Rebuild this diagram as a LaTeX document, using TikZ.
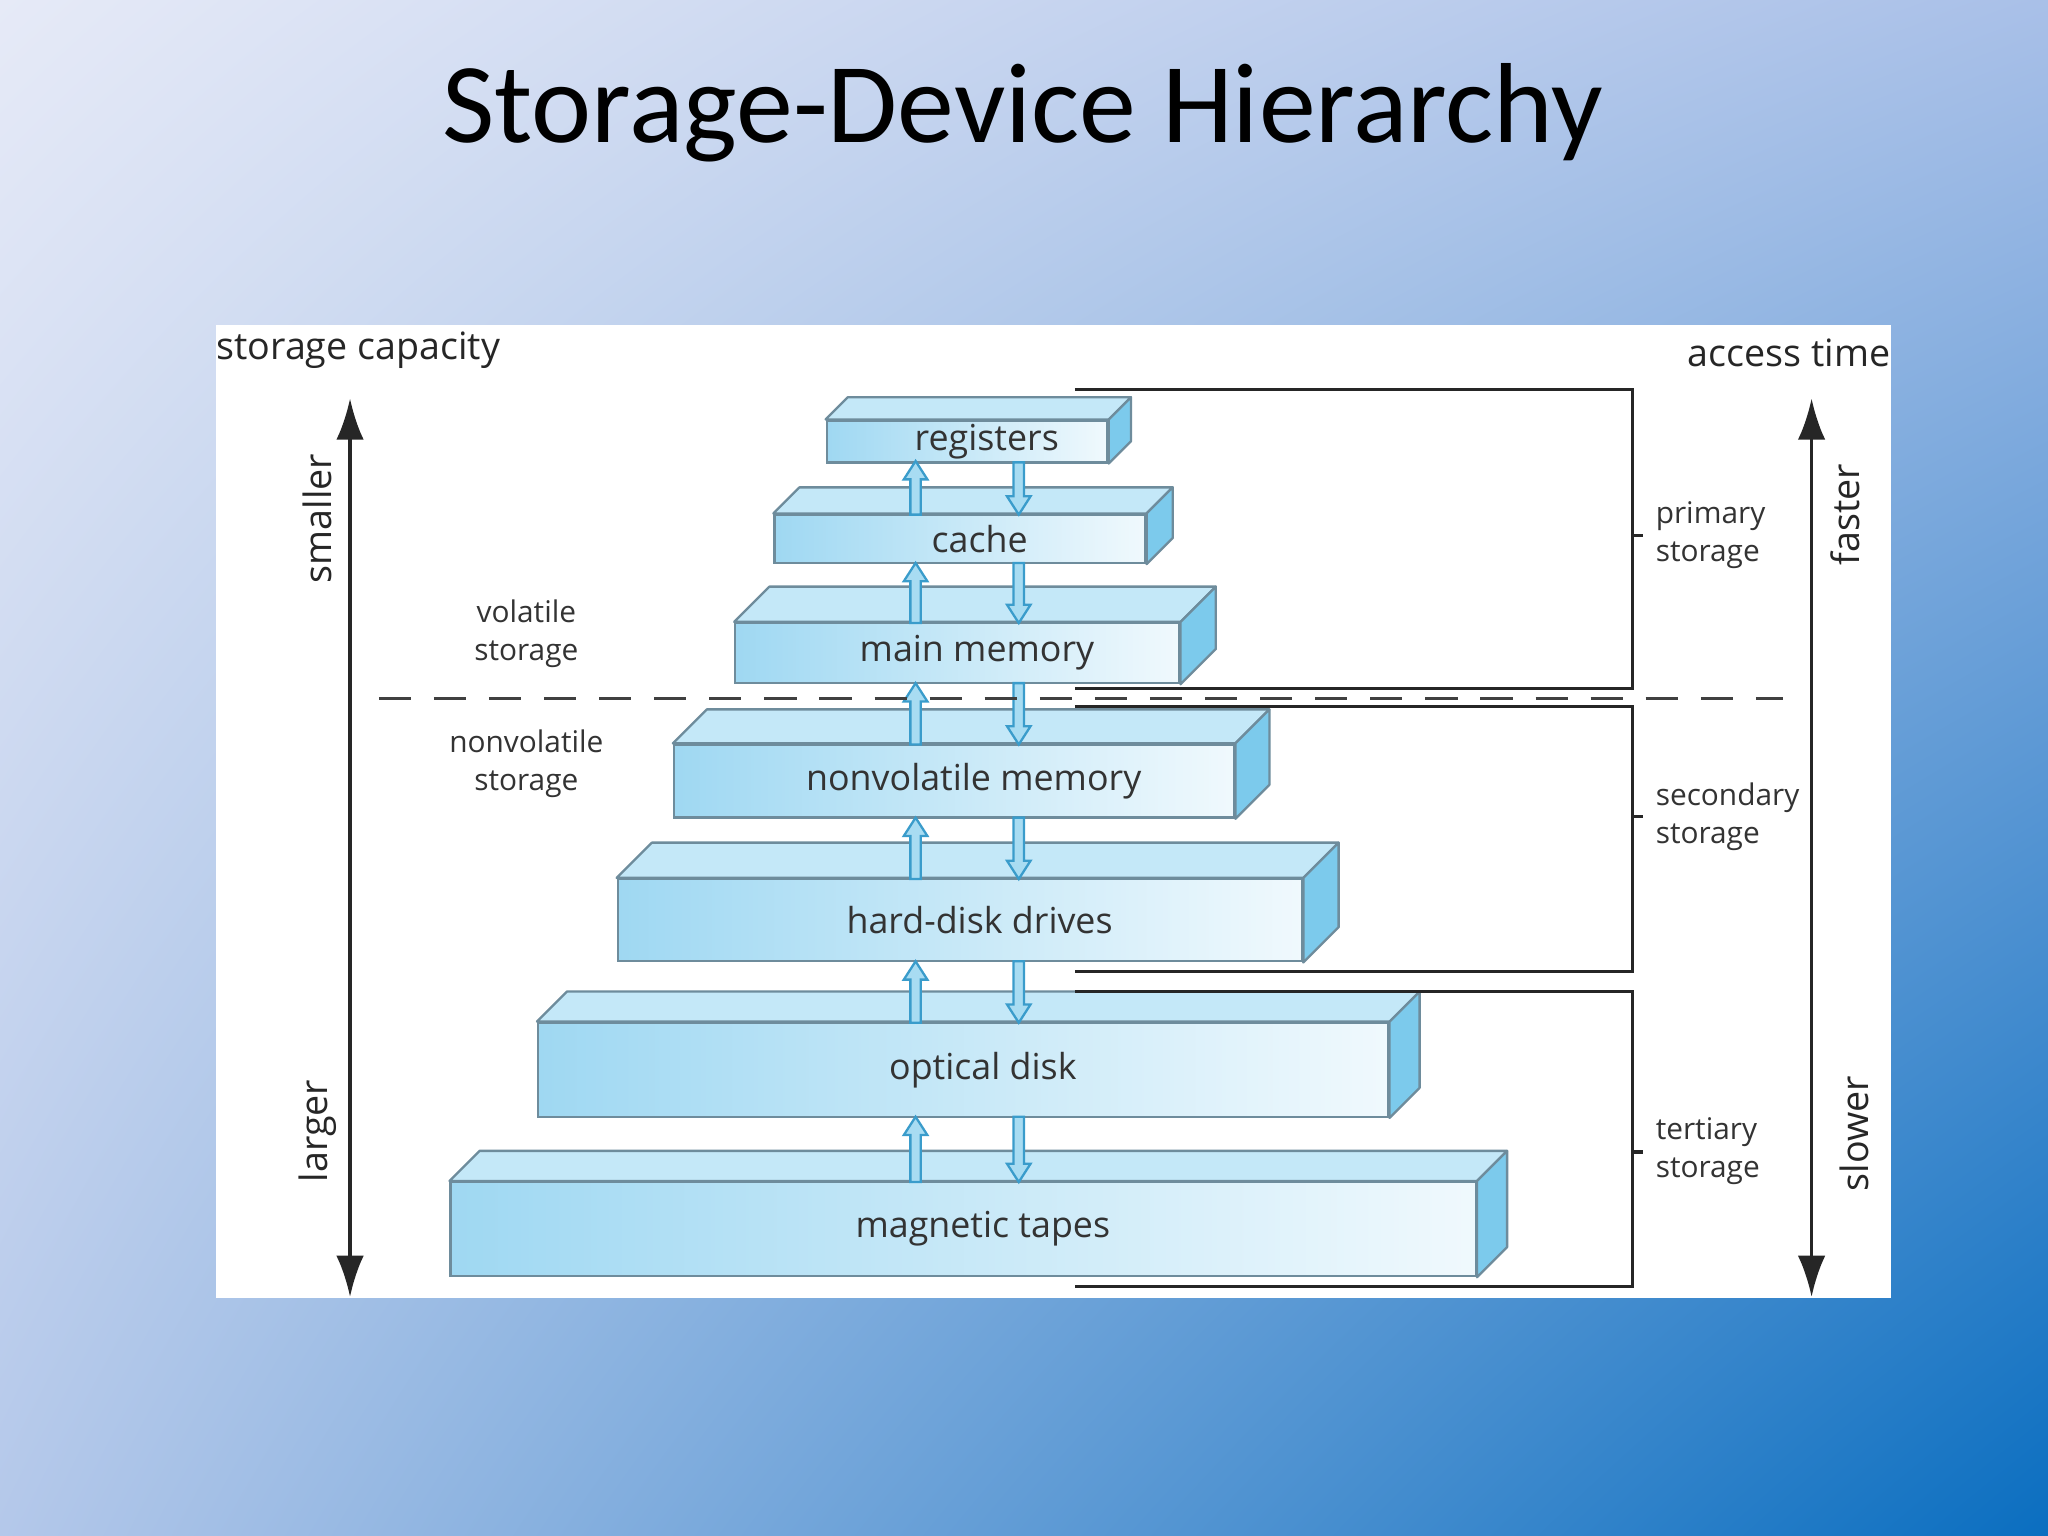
\documentclass[tikz,border=0pt]{standalone}
\usepackage{fontspec}
\setmainfont{Open Sans}
\newfontfamily\titlefont{Carlito}
\usetikzlibrary{arrows.meta,calc,shadings}
\definecolor{frontL}{HTML}{9FD8F2}
\definecolor{frontR}{HTML}{F0F9FD}
\definecolor{topc}{HTML}{C4E8F8}
\definecolor{sidec}{HTML}{7CCAEC}
\definecolor{edgec}{HTML}{6E8C9C}
\definecolor{arrf}{HTML}{A8DCF2}
\definecolor{arre}{HTML}{3A9CCB}
\definecolor{bgUL}{HTML}{E6EAF7}
\definecolor{bgUR}{HTML}{A9C0E8}
\definecolor{bgLL}{HTML}{B4C8EA}
\definecolor{bgLR}{HTML}{0A6EC0}
\tikzset{
 front/.style={draw=edgec,line width=0.5pt,left color=frontL,right color=frontR,inner sep=0pt,font=\fontsize{7.8}{9}\selectfont,text=black!80},
 face/.style={draw=edgec,line width=0.5pt,line join=round},
 sidelbl/.style={font=\fontsize{6.5}{8.3}\selectfont,align=left,text=black!80,anchor=west,inner sep=0pt},
 midlbl/.style={font=\fontsize{6.5}{8.3}\selectfont,align=center,text=black!80},
 bracket/.style={draw=black!85,line width=0.7pt},
 axis/.style={draw=black!85,line width=0.8pt,{Latex[length=9pt,width=6pt]}-{Latex[length=9pt,width=6pt]}},
 barr/.style={fill=arrf,draw=arre,line width=0.5pt,line join=miter}
}
\newcommand{\stbox}[7]{%
 \node[front,minimum width={(#3-#2)*0.1mm},minimum height={(#5-#4)*0.1mm}] (#1) at ({(#2+#3)/2},{(#4+#5)/2}) {\hspace*{3mm}#7};
 \draw[face,fill=topc] (#1.north west) -- ++(#6,-#6) -- ($(#1.north east)+(#6,-#6)$) -- (#1.north east) -- cycle;
 \draw[face,fill=sidec] (#1.north east) -- ++(#6,-#6) -- ($(#1.south east)+(#6,-#6)$) -- (#1.south east) -- cycle;
}
\newcommand{\uparr}[3]{%
 \draw[barr] (#1-4,#2) -- (#1-4,#3+14) -- (#1-9,#3+14) -- (#1,#3) -- (#1+9,#3+14) -- (#1+4,#3+14) -- (#1+4,#2) -- cycle;}
\newcommand{\downarr}[3]{%
 \draw[barr] (#1-4,#2) -- (#1-4,#3-14) -- (#1-9,#3-14) -- (#1,#3) -- (#1+9,#3-14) -- (#1+4,#3-14) -- (#1+4,#2) -- cycle;}
\begin{document}
\begin{tikzpicture}[x=0.1mm,y=-0.1mm]
\useasboundingbox (0,0) rectangle (1568,1176);
\shade[upper left=bgUL,upper right=bgUR,lower left=bgLL,lower right=bgLR] (0,0) rectangle (1568,1176);
\node[font=\titlefont\fontsize{24.8}{28}\selectfont] (title) at (783,86) {Storage-Device Hierarchy};
\fill[white] (165,249) rectangle (1448,994);
\stbox{reg}{633}{848}{322}{354}{17}{registers}
\stbox{cache}{593}{877}{394}{431}{20}{cache}
\stbox{mm}{563}{903}{477}{523}{27}{main memory}
\stbox{nvm}{516}{945}{570}{626}{26}{nonvolatile memory}
\stbox{hdd}{473}{997}{673}{736}{27}{hard-disk drives}
\stbox{od}{412}{1063}{783}{855}{23}{optical disk}
\stbox{mt}{345}{1130}{905}{977}{23}{magnetic tapes}
\uparr{701}{394}{353}\downarr{780}{354}{394}
\uparr{701}{477}{431}\downarr{780}{431}{477}
\uparr{701}{570}{523}\downarr{780}{523}{570}
\uparr{701}{673}{626}\downarr{780}{626}{673}
\uparr{701}{783}{736}\downarr{780}{736}{783}
\uparr{701}{905}{855}\downarr{780}{855}{905}
\coordinate (dl) at (290,535); \coordinate (dr) at (1365,535);
\draw[black!75,line width=0.7pt,dash pattern=on 7pt off 5pt] (dl) -- (dr);
\coordinate (p1) at (823,298); \coordinate (p2) at (823,527);
\draw[bracket] (p1) -| (1250,527) -- (p2); \draw[bracket] (1250,410) -- (1258,410);
\coordinate (s1) at (823,541); \coordinate (s2) at (823,744);
\draw[bracket] (s1) -| (1250,744) -- (s2); \draw[bracket] (1250,625) -- (1258,625);
\coordinate (t1) at (823,759); \coordinate (t2) at (823,985);
\draw[bracket] (t1) -| (1250,985) -- (t2); \draw[bracket] (1250,882) -- (1258,882);
\node[sidelbl] (prim) at (1267,410) {primary\\storage};
\node[sidelbl] (sec) at (1267,625) {secondary\\storage};
\node[sidelbl] (ter) at (1267,881) {tertiary\\storage};
\node[midlbl] (vol) at (403,485) {volatile\\storage};
\node[midlbl] (nvol) at (403,585) {nonvolatile\\storage};
\coordinate (la) at (268,305); \coordinate (lb) at (268,993);
\draw[axis] (la) -- (lb);
\coordinate (ra) at (1387,305); \coordinate (rb) at (1387,993);
\draw[axis] (rb) -- (ra);
\node[font=\fontsize{8.2}{10}\selectfont,anchor=west,inner sep=0pt,text=black!85] (sc) at (165,268) {storage capacity};
\node[font=\fontsize{8.2}{10}\selectfont,anchor=east,inner sep=0pt,text=black!85] (at) at (1448,270) {access time};
\node[font=\fontsize{8.2}{10}\selectfont,rotate=90,text=black!85] (sm) at (243,397) {smaller};
\node[font=\fontsize{8.2}{10}\selectfont,rotate=90,text=black!85] (lg) at (243,866) {larger};
\node[font=\fontsize{8.2}{10}\selectfont,rotate=90,text=black!85] (fa) at (1413,394) {faster};
\node[font=\fontsize{8.2}{10}\selectfont,rotate=90,text=black!85] (sl) at (1420,868) {slower};
\end{tikzpicture}
\end{document}
